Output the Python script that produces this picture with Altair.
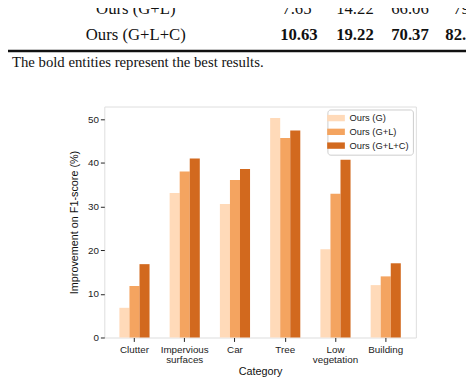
import altair as alt
import pandas as pd

categories = ["Clutter", "Impervious|surfaces", "Car", "Tree", "Low|vegetation", "Building"]
series = ["Ours (G)", "Ours (G+L)", "Ours (G+L+C)"]
vals_g = [6.8, 33.1, 30.6, 50.3, 20.2, 12.0]
vals_gl = [11.8, 38.0, 36.1, 45.7, 32.9, 14.0]
vals_glc = [16.8, 41.0, 38.6, 47.4, 40.7, 17.0]
colors = ["#ffdab9", "#f4a460", "#d2691e"]

row_labels = ["Ours (G+L)", "Ours (G+L+C)"]
row1_vals = ["7.65", "14.22", "66.06", "79.54"]
row2_vals = ["10.63", "19.22", "70.37", "82.16"]
caption = "The bold entities represent the best results."

rows = []
for s, vals in zip(series, [vals_g, vals_gl, vals_glc]):
    for c, v in zip(categories, vals):
        rows.append({"category": c, "series": s, "value": v})
df = pd.DataFrame(rows)

SANS = "Liberation Sans"
SERIF = "Liberation Serif"

bars = alt.Chart(df).mark_bar().encode(
    x=alt.X("category:N", sort=categories,
            scale=alt.Scale(paddingInner=0.4, paddingOuter=0.3),
            axis=alt.Axis(title="Category", labelAngle=0,
                          labelExpr="split(datum.label, '|')",
                          labelFont=SANS, labelFontSize=10, labelColor="#222",
                          titleFont=SANS, titleFontSize=11, titleFontWeight="normal",
                          titleColor="#111", titlePadding=2,
                          domain=False, tickColor="#222", tickSize=4, labelPadding=3,
                          labelLineHeight=10)),
    xOffset=alt.XOffset("series:N", sort=series,
                        scale=alt.Scale(paddingInner=0, paddingOuter=0)),
    y=alt.Y("value:Q", scale=alt.Scale(domain=[0, 52.9], nice=False),
            axis=alt.Axis(title="Improvement on F1-score (%)", values=[0, 10, 20, 30, 40, 50],
                          grid=False, domain=False, tickColor="#222", tickSize=4,
                          labelFont=SANS, labelFontSize=10, labelColor="#222",
                          titleFont=SANS, titleFontSize=11, titleFontWeight="normal",
                          titleColor="#111", titlePadding=8)),
    color=alt.Color("series:N", sort=series,
                    scale=alt.Scale(domain=series, range=colors),
                    legend=alt.Legend(title=None, orient="top-right", offset=3,
                                      fillColor="white", strokeColor="#ccc",
                                      cornerRadius=3, padding=4,
                                      labelFont=SANS, labelFontSize=9.5, labelColor="#222",
                                      symbolType="M-2,-0.72H2V0.72H-2Z", symbolSize=81,
                                      symbolOffset=0,
                                      symbolStrokeWidth=0, rowPadding=3, labelOffset=9)),
)

layers = [bars]

def txt(t, x, y, size, font=SERIF, weight="normal", align="center"):
    return alt.Chart(pd.DataFrame({"t": [t]})).mark_text(
        font=font, fontSize=size, fontWeight=weight, align=align,
        baseline="alphabetic", color="#111").encode(
        text="t:N", x=alt.value(x), y=alt.value(y))

# table fragment above the chart
layers.append(txt(row_labels[0], 32, -94, 17))
layers.append(txt(row_labels[1], 32, -68, 17))
for v, xc in zip(row1_vals[:3], [196, 255, 311]):
    layers.append(txt(v, xc, -94, 17))
layers.append(txt(row1_vals[3], 355, -94, 17, align="left"))
for v, xc in zip(row2_vals[:3], [198, 255, 311]):
    layers.append(txt(v, xc, -68, 17, weight="bold"))
layers.append(txt(row2_vals[3], 347, -68, 17, weight="bold", align="left"))
layers.append(txt(caption, -94, -40, 15, align="left"))

rule = alt.Chart(pd.DataFrame({"a": [0]})).mark_rule(color="#111", strokeWidth=2.5).encode(
    x=alt.value(-110), x2=alt.value(370), y=alt.value(-56.5))
layers.append(rule)

chart = alt.layer(*layers).properties(
    width=317, height=235,
    autosize=alt.AutoSizeParams(type="none"),
    padding={"left": 98, "top": 97, "right": 51, "bottom": 41},
).configure_view(stroke="#222", strokeWidth=1).configure(background="white")

chart.save("out.html", embed_options={"renderer": "svg", "actions": False})
